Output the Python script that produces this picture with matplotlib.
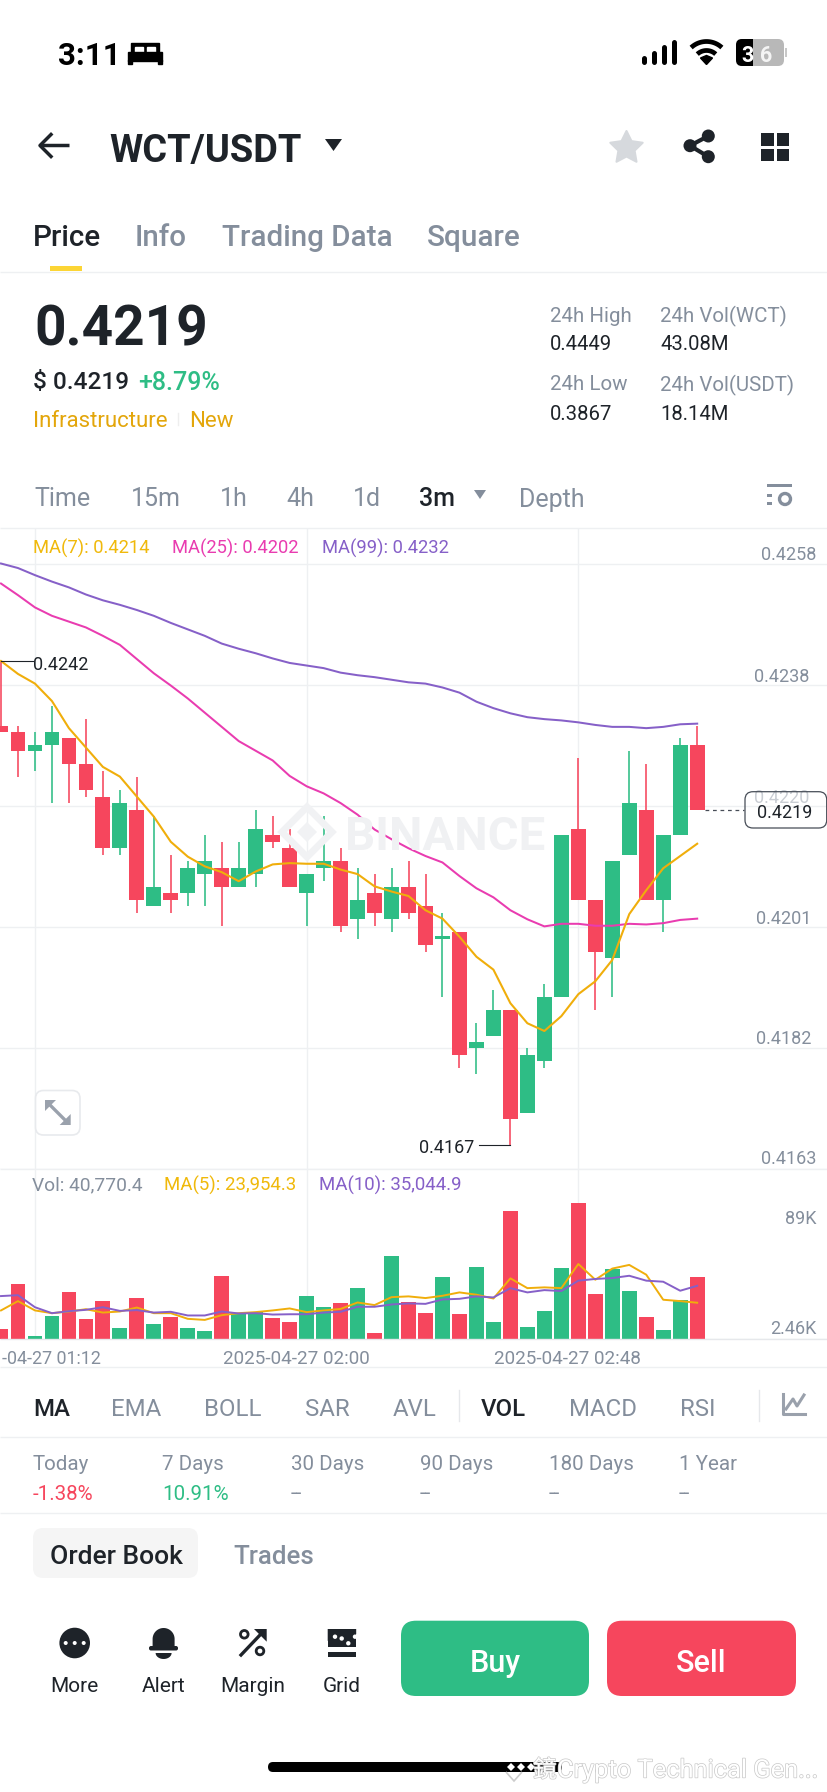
"""Binance WCT/USDT 3m kline screen, redrawn with matplotlib."""

import matplotlib
matplotlib.use("Agg")

import matplotlib.patheffects as pe
import matplotlib.pyplot as plt
import numpy as np
from matplotlib.patches import Circle, FancyBboxPatch, Polygon, Rectangle

plt.rcParams["font.family"] = ["Roboto", "Noto Sans CJK SC", "DejaVu Sans"]

# candles, 3m
OPENS = [.4232, .4231, .4228, .4229, .4230, .4226, .4221, .4213, .4219, .4204, .4206, .4206, .4209, .4210,
         .4207, .4209, .4215, .4213, .4206, .4210, .4211, .4202, .4206, .4202, .4207, .4204, .4199, .4200,
         .4182, .4184, .4188, .4172, .4180, .4190, .4216, .4205, .4196, .4212, .4219, .4205, .4215, .4229]
CLOSES = [.4231, .4228, .4229, .4231, .4226, .4222, .4213, .4220, .4205, .4207, .4205, .4210, .4211, .4207,
          .4210, .4216, .4214, .4207, .4209, .4211, .4201, .4205, .4203, .4207, .4203, .4198, .4199, .4181,
          .4183, .4188, .4171, .4181, .4190, .4215, .4205, .4197, .4211, .4220, .4205, .4215, .4229, .4219]
HIGHS = [.4242, .4232, .4231, .4235, .4230, .4233, .4225, .4222, .4224, .4218, .4212, .4211, .4215, .4214,
         .4214, .4219, .4218, .4216, .4209, .4218, .4213, .4210, .4209, .4210, .4211, .4209, .4203, .4200,
         .4186, .4191, .4188, .4182, .4192, .4215, .4227, .4205, .4211, .4228, .4226, .4215, .4230, .4232]
LOWS = [.4231, .4224, .4225, .4220, .4220, .4221, .4212, .4212, .4203, .4204, .4203, .4204, .4204, .4201,
        .4207, .4207, .4213, .4207, .4201, .4208, .4200, .4199, .4201, .4200, .4202, .4197, .4190, .4179,
        .4178, .4184, .4167, .4172, .4179, .4190, .4205, .4188, .4190, .4212, .4205, .4200, .4215, .4219]

MA7 = [.42420, .42400, .42385, .42358, .42316, .42286, .42256, .42241, .42210, .42179, .42140, .42117, .42102,
       .42093, .42079, .42094, .42105, .42107, .42106, .42106, .42097, .42090, .42071, .42063, .42056, .42034,
       .42021, .41993, .41962, .41942, .41890, .41859, .41847, .41870, .41904, .41924, .41957, .42028, .42065,
       .42099, .42118, .42137]
MA25 = [.42540, .42522, .42503, .42490, .42481, .42472, .42459, .42445, .42423, .42401, .42382, .42362, .42340,
        .42318, .42296, .42281, .42266, .42242, .42226, .42215, .42200, .42182, .42159, .42144, .42130, .42118,
        .42108, .42087, .42068, .42054, .42034, .42020, .42009, .42013, .42013, .42010, .42010, .42013, .42012,
        .42014, .42019, .42021]
MA99 = [.42571, .42564, .42553, .42543, .42534, .42523, .42514, .42507, .42499, .42490, .42479, .42469, .42459,
        .42447, .42439, .42432, .42424, .42417, .42413, .42409, .42402, .42398, .42395, .42391, .42387, .42385,
        .42379, .42371, .42357, .42347, .42339, .42333, .42330, .42328, .42325, .42321, .42318, .42318, .42316,
        .42318, .42322, .42323]

# volume, in thousands
VOLUMES = [6.6, 36.2, 2.46, 15.3, 30.9, 13.2, 25.4, 7.7, 27.2, 10.1, 14.5, 7.2, 5.3, 41.4, 16.4, 17.8, 14.2,
           11.0, 28.5, 21.0, 23.7, 33.8, 4.4, 54.6, 24.3, 17.1, 40.6, 16.4, 47.1, 11.4, 84.0, 7.9, 18.6, 46.7,
           89.0, 29.8, 46.3, 31.6, 14.7, 6.4, 25.9, 40.77]
VOL_MA5 = [18.9, 25.0, 18.9, 17.1, 18.2, 19.7, 17.5, 18.2, 20.8, 17.1, 17.1, 13.4, 12.7, 15.8, 17.1, 17.8, 18.9,
           20.2, 17.8, 18.9, 19.9, 24.1, 22.4, 27.6, 28.1, 27.0, 28.5, 30.7, 29.2, 26.7, 39.9, 33.5, 34.0, 33.5,
           49.3, 39.0, 46.3, 48.7, 42.3, 25.9, 25.0, 23.95]
VOL_MA10 = [28.3, 28.9, 21.0, 17.1, 18.4, 19.3, 21.0, 18.6, 19.1, 17.5, 18.0, 15.6, 15.6, 18.2, 16.9, 17.1, 16.2,
            16.4, 16.4, 17.5, 18.0, 21.3, 21.3, 22.8, 23.5, 23.2, 26.1, 26.5, 28.1, 27.4, 33.5, 30.7, 32.2, 31.6,
            38.4, 39.5, 40.1, 41.6, 38.4, 37.7, 31.8, 35.04]

PRICE_GRID = [.42571, .42383, .42196, .42008, .41820, .41633]
PRICE_LABELS = ["0.4258", "0.4238", "0.4220", "0.4201", "0.4182", "0.4163"]
TIME_TICKS = [2, 18, 34]
TIME_LABELS = ["-04-27 01:12", "2025-04-27 02:00", "2025-04-27 02:48"]

INTERVALS = ["Time", "15m", "1h", "4h", "1d", "3m", "Depth"]
INDICATORS = ["MA", "EMA", "BOLL", "SAR", "AVL", "VOL", "MACD", "RSI"]
PERIODS = ["Today", "7 Days", "30 Days", "90 Days", "180 Days", "1 Year"]
PERIOD_VALUES = ["-1.38%", "10.91%", "--", "--", "--", "--"]
TABS = ["Price", "Info", "Trading Data", "Square"]
ACTIONS = ["More", "Alert", "Margin", "Grid"]

GREEN = "#2EBD85"
RED = "#F6465D"
DARK = "#1E2329"
GRAY = "#848E9C"
GRID = "#EEF0F2"
YELLOW = "#F0B90B"
LINE_YELLOW = "#F0AE0B"
PINK = "#E93CB0"
PURPLE = "#8660C8"

W, H = 828, 1792
CANDLE_W = 0.87


def add_panel(fig, top, bottom):
    ax = fig.add_axes([0, 1 - bottom / H, 1, (bottom - top) / H])
    ax.set_xlim(-1 / 16.98, 827 / 16.98)
    ax.patch.set_alpha(0)
    ax.tick_params(length=0, labelleft=False, labelbottom=False)
    for s in ax.spines.values():
        s.set_visible(False)
    ax.set_xticks(TIME_TICKS)
    ax.grid(True, color=GRID, linewidth=1.0)
    ax.set_axisbelow(True)
    return ax


def draw_candles(ax):
    xs = np.arange(len(OPENS))
    opens, closes = np.array(OPENS), np.array(CLOSES)
    colors = [GREEN if c >= o else RED for o, c in zip(opens, closes)]
    ax.vlines(xs, LOWS, HIGHS, colors=colors, linewidth=1.15, zorder=3)
    bottoms = np.minimum(opens, closes)
    heights = np.maximum(np.abs(closes - opens), 0.00004)
    ax.bar(xs, heights, bottom=bottoms, width=CANDLE_W, color=colors, zorder=4)
    ax.plot(xs, MA99, color=PURPLE, linewidth=1.45, zorder=5)
    ax.plot(xs, MA25, color=PINK, linewidth=1.45, zorder=5)
    ax.plot(xs, MA7, color=LINE_YELLOW, linewidth=1.5, zorder=6)
    ax.set_ylim(.416328, .42626)
    ax.set_yticks(PRICE_GRID)


def draw_volume(ax):
    xs = np.arange(len(VOLUMES))
    colors = [GREEN if c >= o else RED for o, c in zip(OPENS, CLOSES)]
    ax.bar(xs, VOLUMES, width=CANDLE_W, color=colors, zorder=4)
    ax.plot(xs, VOL_MA5, color=LINE_YELLOW, linewidth=1.4, zorder=5)
    ax.plot(xs, VOL_MA10, color=PURPLE, linewidth=1.4, zorder=6)
    ax.set_ylim(0, 111.3)
    ax.set_yticks([0])


def hline(ui, y, color=GRID, lw=1.0):
    ui.plot([0, W], [y, y], color=color, linewidth=lw, solid_capstyle="butt", zorder=1)


def rbox(ui, x0, y0, x1, y1, r, **kw):
    ui.add_patch(FancyBboxPatch((x0 + r, y0 + r), x1 - x0 - 2 * r, y1 - y0 - 2 * r,
                                boxstyle=f"round,pad={r},rounding_size={r}", **kw))


def status_bar(ui, text):
    text(58, 53, "3:11", 22.5, "#000000", weight="bold")
    # bed
    ui.add_patch(Rectangle((131, 43), 28, 10, color="#000000"))
    ui.add_patch(Rectangle((135, 47), 8, 5, color="white"))
    ui.add_patch(Rectangle((147, 47), 8, 5, color="white"))
    ui.add_patch(Rectangle((128, 52), 34, 9, color="#000000"))
    ui.add_patch(Rectangle((128, 60), 4, 4, color="#000000"))
    ui.add_patch(Rectangle((158, 60), 4, 4, color="#000000"))
    # signal
    for x, top in zip((644.2, 654.5, 664.2, 674.5), (58, 53, 47, 42)):
        ui.plot([x, x], [top, 62], color="#000000", linewidth=3.6, solid_capstyle="round")
    # wifi
    t = np.radians(np.linspace(47, 133, 30))
    for r in (22.5, 13.5):
        ui.plot(706.5 + r * np.cos(t), 64 - r * np.sin(t), color="#000000", linewidth=3.4, solid_capstyle="butt")
    ui.add_patch(Polygon([(706.5, 64.5), (700.5, 58), (706.5, 55.5), (712.5, 58)], color="#000000"))
    # battery
    rbox(ui, 736, 39, 784, 66, 6, color="#B8B8B8", linewidth=0)
    rbox(ui, 736, 39, 760, 66, 6, color="#000000", linewidth=0)
    ui.add_patch(Rectangle((752.7, 39), 12, 27, color="#B8B8B8", linewidth=0))
    ui.add_patch(Rectangle((785.5, 48), 2, 9, color="#C8C8C8", linewidth=0))
    text(741.5, 53, "3", 15.5, "white", weight="bold")
    text(760, 53, "6", 15.5, "#F4F4F4", weight="bold")


def header(ui, text):
    ui.plot([69, 40], [145.5, 145.5], color=DARK, linewidth=2.5, solid_capstyle="butt")
    ui.plot([51, 40, 51], [134.5, 145.5, 156.5], color=DARK, linewidth=2.5)
    text(109, 147, "WCT/USDT", 27.4, DARK, weight="bold")
    ui.add_patch(Polygon([(325, 139), (342, 139), (333.5, 151)], color=DARK, linewidth=0))
    ang = np.radians(np.arange(0, 360, 36) - 90)
    rad = np.where(np.arange(10) % 2 == 0, 17, 8.5)
    ui.add_patch(Polygon(np.c_[626.5 + rad * np.cos(ang), 148 + rad * np.sin(ang)], closed=True,
                         facecolor="#D6D9DD", edgecolor="#D6D9DD", linewidth=1.5, joinstyle="round"))
    ui.plot([708.3, 690, 708.3], [136, 145.7, 156.7], color=DARK, linewidth=3)
    for x, y in ((708.3, 136), (690, 145.7), (708.3, 156.7)):
        ui.add_patch(Circle((x, y), 6.5, color=DARK, linewidth=0))
    for x0, x1 in ((760.7, 774), (776.7, 789)):
        for y0, y1 in ((132.7, 146), (149, 161)):
            ui.add_patch(Rectangle((x0, y0), x1 - x0, y1 - y0, color=DARK, linewidth=0))
    for label, x, color in zip(TABS, (33, 135, 222, 427), (DARK, GRAY, GRAY, GRAY)):
        text(x, 235, label, 21.3, color, weight=500)
    ui.add_patch(Rectangle((50, 266), 32, 5, color="#FCD535", linewidth=0))
    hline(ui, 272)


def summary(ui, text):
    text(34, 325, "0.4219", 39.5, DARK, weight="bold")
    text(33, 380, "$ 0.4219", 17.6, DARK, weight=500)
    text(138, 380, "+8.79%", 18, GREEN, weight=500)
    text(33, 419, "Infrastructure", 16, "#E3A60B")
    ui.plot([178, 178], [413, 425], color="#EEEEEE", linewidth=1)
    text(189, 419, "New", 16, "#E3A60B")
    text(550, 314, "24h High", 14.8, GRAY)
    text(660, 314, "24h Vol(WCT)", 14.8, GRAY)
    text(550, 343, "0.4449", 14.6, DARK)
    text(660, 343, "43.08M", 14.6, DARK)
    text(550, 383, "24h Low", 14.8, GRAY)
    text(660, 383, "24h Vol(USDT)", 14.8, GRAY)
    text(550, 412, "0.3867", 14.6, DARK)
    text(660, 412, "18.14M", 14.6, DARK)


def interval_row(ui, text):
    for label, x in zip(INTERVALS, (34, 131, 220, 286, 353, 419, 519)):
        if label == "3m":
            text(x, 497, label, 18, DARK, weight=500)
        else:
            text(x, 497, label, 18, GRAY)
    ui.add_patch(Polygon([(474, 490), (486, 490), (480, 499)], color=GRAY, linewidth=0))
    ui.add_patch(Rectangle((767, 484), 25, 3, color=GRAY, linewidth=0))
    ui.add_patch(Rectangle((767, 494), 5, 3, color=GRAY, linewidth=0))
    ui.add_patch(Rectangle((767, 502), 5, 3, color=GRAY, linewidth=0))
    ui.add_patch(Circle((785, 499), 5.5, facecolor="white", edgecolor=GRAY, linewidth=2.4))
    hline(ui, 528)


def chart_labels(ui, text, ax_price):
    text(33, 546, "MA(7): 0.4214", 13.2, YELLOW)
    text(172, 546, "MA(25): 0.4202", 13.2, PINK)
    text(322, 546, "MA(99): 0.4232", 13.2, PURPLE)
    ends = (816.7, 809, 809.7, 811, 811, 816.7)
    ys = (553, 674.5, 795.7, 916.5, 1037.5, 1157)
    for label, xr, y in zip(PRICE_LABELS, ends, ys):
        # the 0.4220 label sits under the last price box and reads paler there
        color = "#C9CDD3" if label == "0.4220" else GRAY
        text(xr, y, label, 13, color, ha="right")

    # max / min callouts
    ui.plot([1, 33], [661, 661], color=DARK, linewidth=0.8)
    text(33.5, 663, "0.4242", 13, DARK)
    ui.plot([479, 510], [1145.3, 1145.3], color=DARK, linewidth=0.8)
    text(418.7, 1146, "0.4167", 13, DARK)

    # last price box
    ui.plot([705, 744], [809.7, 809.7], color="#474D57", linewidth=0.9, linestyle=(0, (3, 3)))
    rbox(ui, 745, 791.7, 826.7, 828, 8, facecolor="none", edgecolor="#474D57", linewidth=0.9, zorder=3)
    text(784.7, 811, "0.4219", 13, DARK, ha="center", zorder=4)

    # watermark
    ui.add_patch(Polygon([(307, 807), (332, 832), (307, 857), (282, 832)], closed=True, facecolor="none",
                         edgecolor="#F1F2F4", linewidth=5, zorder=0.5))
    ui.add_patch(Polygon([(307, 822), (317, 832), (307, 842), (297, 832)], color="#F1F2F4", linewidth=0, zorder=0.5))
    text(345, 832, "BINANCE", 34, "#F0F1F3", weight="bold", zorder=0.5)

    # expand button
    rbox(ui, 35.5, 1090.5, 80, 1135, 8, facecolor="white", edgecolor="#E8EAED", linewidth=1.2, zorder=2)
    icon = "#9AA1AC"
    ui.add_patch(Polygon([(45, 1100), (56, 1100), (45, 1111)], color=icon, linewidth=0, zorder=3))
    ui.add_patch(Polygon([(70.7, 1125), (59.7, 1125), (70.7, 1114)], color=icon, linewidth=0, zorder=3))
    ui.plot([48, 67], [1103, 1122], color=icon, linewidth=2.4, zorder=3)

    hline(ui, 1169.3)
    text(32, 1183, "Vol: 40,770.4", 13.8, GRAY)
    text(164, 1183, "MA(5): 23,954.3", 13.4, YELLOW)
    text(319, 1183, "MA(10): 35,044.9", 13.4, PURPLE)
    text(816.7, 1217, "89K", 13, GRAY, ha="right")
    text(816.7, 1327, "2.46K", 13, GRAY, ha="right")
    hline(ui, 1339.3, color="#E6E8EB")

    text(101, 1357, TIME_LABELS[0], 12.9, GRAY, ha="right")
    text(296, 1357, TIME_LABELS[1], 13.6, GRAY, ha="center")
    text(567.3, 1357, TIME_LABELS[2], 13.6, GRAY, ha="center")
    hline(ui, 1367)


def lower_rows(ui, text):
    for label, x in zip(INDICATORS, (33, 111, 204, 305, 393, 481, 569, 680)):
        if label in ("MA", "VOL"):
            text(x, 1407, label, 17.3, DARK, weight=500)
        else:
            text(x, 1407, label, 17.3, GRAY)
    ui.plot([459, 459], [1390, 1421], color="#E6E8EB", linewidth=1)
    ui.plot([759, 759], [1390, 1421], color="#E6E8EB", linewidth=1)
    ui.plot([783.5, 783.5, 805], [1394, 1414.5, 1414.5], color="#9AA1AC", linewidth=2.2)
    ui.plot([786, 793, 797, 804], [1409, 1399, 1406, 1395], color="#9AA1AC", linewidth=2.2)
    hline(ui, 1437)

    for label, value, x in zip(PERIODS, PERIOD_VALUES, (33, 162, 291, 420, 549, 679)):
        text(x, 1462, label, 14.8, GRAY)
        color = RED if value.startswith("-1") else GREEN if value[0].isdigit() else GRAY
        text(x, 1492, value, 14.8, color)
    hline(ui, 1513.4)

    rbox(ui, 33, 1528, 198, 1578, 10, color="#F5F5F5", linewidth=0)
    text(50, 1554, "Order Book", 19, DARK, weight=500)
    text(233, 1554, "Trades", 18.6, GRAY, weight=500)


def bottom_bar(ui, text):
    # more
    ui.add_patch(Circle((74.7, 1643), 15.3, color=DARK, linewidth=0))
    for dx in (-9, 0, 9):
        ui.add_patch(Circle((74.7 + dx, 1643), 2, color="white", linewidth=0))
    # alert
    t = np.radians(np.linspace(180, 360, 40))
    dome = np.c_[163.6 + 11 * np.cos(t), 1639 + 11 * np.sin(t)]
    ui.add_patch(Polygon(np.r_[dome, [(174.6, 1647), (152.6, 1647)]], closed=True, color=DARK, linewidth=0))
    rbox(ui, 149, 1646, 178, 1650.5, 2, color=DARK, linewidth=0)
    t = np.radians(np.linspace(0, 180, 20))
    ui.add_patch(Polygon(np.c_[163.6 + 8 * np.cos(t), 1653 + 6 * np.sin(t)], closed=True, color=DARK, linewidth=0))
    # margin
    ui.plot([241, 260], [1655, 1635], color=DARK, linewidth=2.4)
    ui.add_patch(Polygon([(266.7, 1629), (254, 1629), (266.7, 1641.7)], color=DARK, linewidth=0))
    ui.add_patch(Circle((244.3, 1634.3), 3.8, facecolor="white", edgecolor=DARK, linewidth=2))
    ui.add_patch(Circle((260, 1651), 3.8, facecolor="white", edgecolor=DARK, linewidth=2))
    # grid
    ui.add_patch(Rectangle((327.7, 1629), 28.5, 18.3, color=DARK, linewidth=0))
    ui.add_patch(Rectangle((327.7, 1652.3), 28.5, 5, color=DARK, linewidth=0))
    ui.add_patch(Polygon([(327.7, 1629), (327.7, 1641), (335, 1633), (349, 1643), (356.2, 1634), (356.2, 1629)],
                         color=DARK, linewidth=0))
    for x, y in ((335, 1636.7), (341.7, 1638.5), (348.3, 1643.3), (355, 1636.7)):
        ui.add_patch(Circle((x, y), 2.2, color="white", linewidth=0))

    for label, x in zip(ACTIONS, (74.4, 163.7, 252.4, 341.6)):
        text(x, 1684, label, 15, DARK, ha="center")

    rbox(ui, 401, 1620.7, 589, 1696, 15, color=GREEN, linewidth=0)
    rbox(ui, 607, 1620.7, 796, 1696, 15, color=RED, linewidth=0)
    text(495, 1661, "Buy", 22, "white", ha="center", weight=500)
    text(701, 1661, "Sell", 22, "white", ha="center", weight=500)

    rbox(ui, 268, 1762, 562, 1772, 5, color="#000000", linewidth=0)
    # repost watermark
    for x, y in ((511, 1767), (521, 1767), (531, 1767)):
        ui.add_patch(Polygon([(x, y - 4), (x + 4, y), (x, y + 4), (x - 4, y)], color="white", linewidth=0))
    ui.add_patch(Polygon([(506, 1772), (514, 1781), (522, 1772)], closed=False, fill=False, edgecolor="#CCCCCC",
                         linewidth=1.2))
    stroke = [pe.withStroke(linewidth=1.0, foreground="#C8C8C8")]
    text(533, 1768, "鏡", 17, "white", path_effects=stroke)
    text(557, 1768, "Crypto Technical Gen...", 18.3, "white", path_effects=stroke)


def main():
    fig = plt.figure(figsize=(W / 100, H / 100), dpi=100, facecolor="white")

    ax_price = add_panel(fig, 528, 1169.3)
    draw_candles(ax_price)
    ax_vol = add_panel(fig, 1169.3, 1339.3)
    draw_volume(ax_vol)

    ui = fig.add_axes([0, 0, 1, 1])
    ui.set_xlim(0, W)
    ui.set_ylim(H, 0)
    ui.axis("off")
    ui.patch.set_alpha(0)

    def text(x, y, s, size, color, ha="left", **kw):
        return ui.text(x, y, s, fontsize=size, color=color, ha=ha, va="center_baseline", **kw)

    status_bar(ui, text)
    header(ui, text)
    summary(ui, text)
    interval_row(ui, text)
    chart_labels(ui, text, ax_price)
    lower_rows(ui, text)
    bottom_bar(ui, text)

    fig.savefig("out.png", dpi=100)
    plt.close(fig)


if __name__ == "__main__":
    main()
